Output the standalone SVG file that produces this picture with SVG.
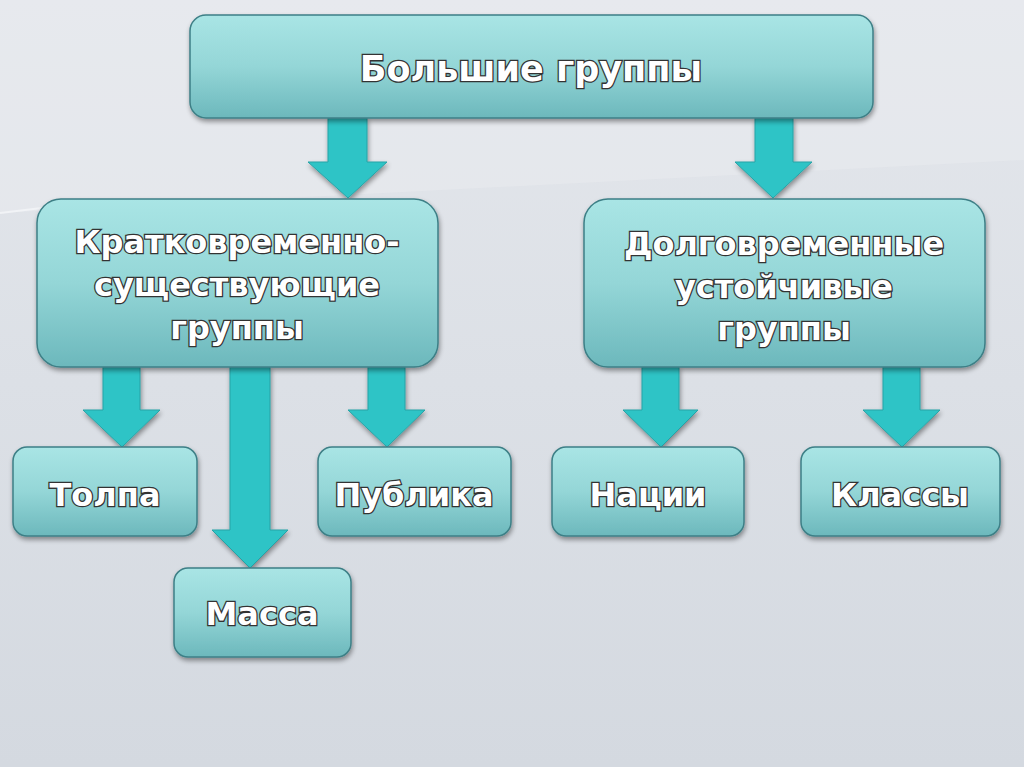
<svg xmlns="http://www.w3.org/2000/svg" width="1024" height="767" viewBox="0 0 1024 767">
<defs>
<linearGradient id="bg" x1="0" y1="0" x2="0" y2="1">
<stop offset="0" stop-color="#e4e7ec"/>
<stop offset="1" stop-color="#d4d9e0"/>
</linearGradient>
<linearGradient id="box" x1="0" y1="0" x2="0" y2="1">
<stop offset="0" stop-color="#a9e5e5"/>
<stop offset="0.5" stop-color="#94d6d7"/>
<stop offset="1" stop-color="#6cb8bc"/>
</linearGradient>
<filter id="sh" x="-10%" y="-10%" width="120%" height="130%">
<feGaussianBlur in="SourceAlpha" stdDeviation="2.5"/>
<feOffset dx="1" dy="3" result="b"/>
<feComponentTransfer><feFuncA type="linear" slope="0.4"/></feComponentTransfer>
<feMerge><feMergeNode/><feMergeNode in="SourceGraphic"/></feMerge>
</filter>
</defs>
<style>
.node rect{fill:url(#box);stroke:#3d7f86;stroke-width:1.5;filter:url(#sh)}
.node text{font-family:"DejaVu Sans",Verdana,sans-serif;font-weight:bold;fill:#ffffff;stroke:#333333;stroke-width:2.6;paint-order:stroke;text-anchor:middle;dominant-baseline:central}
.arrow{fill:#2fc4c6;stroke:#27a3a6;stroke-width:1;filter:url(#sh)}
</style>
<rect x="0" y="0" width="1024" height="767" fill="url(#bg)"/>
<polygon points="0,0 1024,0 1024,160 0,213" fill="#e9ecf0" opacity="0.5"/>
<line x1="0" y1="213" x2="50" y2="207" stroke="#f1f3f6" stroke-width="2"/>
<g id="connectors">
<polygon class="arrow" points="328,118 367,118 367,162 387,162 348,198 308,162 328,162"/>
<polygon class="arrow" points="755,118 793,118 793,162 812,162 773,198 735,162 755,162"/>
<polygon class="arrow" points="103,367 140,367 140,410 160,410 122,447 83,410 103,410"/>
<polygon class="arrow" points="230,367 270,367 270,530 288,530 250,568 212,530 230,530"/>
<polygon class="arrow" points="368,367 405,367 405,410 425,410 387,447 348,410 368,410"/>
<polygon class="arrow" points="642,367 679,367 679,410 698,410 661,447 623,410 642,410"/>
<polygon class="arrow" points="883,367 920,367 920,410 940,410 902,447 863,410 883,410"/>
</g>
<g id="node-big" class="node">
<rect x="190" y="15" width="683" height="103" rx="16"/>
<text x="531" y="69" font-size="35">Большие группы</text>
</g>
<g id="node-short" class="node">
<rect x="37" y="199" width="401" height="168" rx="24"/>
<text x="237" y="242" font-size="32">Кратковременно-</text>
<text x="237" y="285" font-size="32">существующие</text>
<text x="237" y="328" font-size="32">группы</text>
</g>
<g id="node-long" class="node">
<rect x="584" y="199" width="401" height="168" rx="24"/>
<text x="784" y="244" font-size="32">Долговременные</text>
<text x="784" y="287" font-size="32">устойчивые</text>
<text x="784" y="329" font-size="32">группы</text>
</g>
<g id="node-tolpa" class="node">
<rect x="13" y="447" width="184" height="89" rx="14"/>
<text x="105" y="495" font-size="32">Толпа</text>
</g>
<g id="node-publika" class="node">
<rect x="318" y="447" width="193" height="89" rx="14"/>
<text x="414" y="495" font-size="32">Публика</text>
</g>
<g id="node-massa" class="node">
<rect x="174" y="568" width="177" height="89" rx="14"/>
<text x="262" y="614" font-size="32">Масса</text>
</g>
<g id="node-nacii" class="node">
<rect x="552" y="447" width="192" height="89" rx="14"/>
<text x="648" y="495" font-size="32">Нации</text>
</g>
<g id="node-klassy" class="node">
<rect x="801" y="447" width="199" height="89" rx="14"/>
<text x="900" y="495" font-size="32">Классы</text>
</g>
</svg>
